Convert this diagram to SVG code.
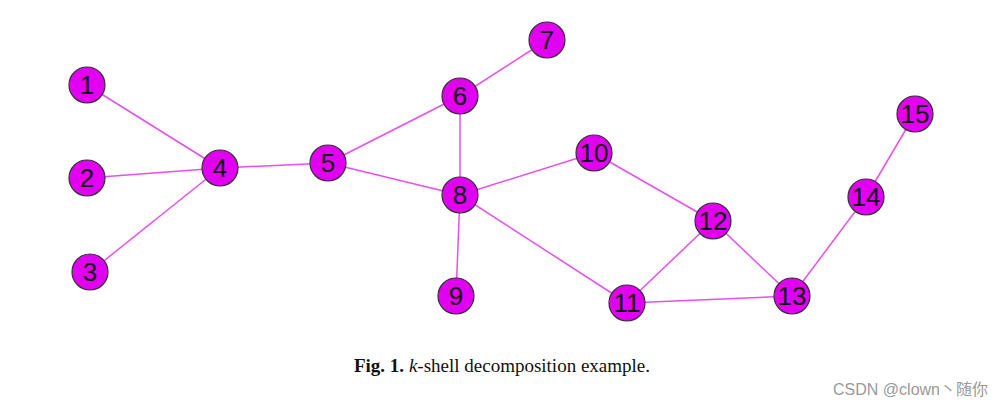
<svg xmlns="http://www.w3.org/2000/svg" width="1004" height="409" viewBox="0 0 1004 409">
<style>
.e{stroke:#e54ff0;stroke-width:1.5;fill:none}
.n circle{fill:#e100f0;stroke:#333;stroke-width:1.2}
.n text{font-family:"Liberation Sans",Arial,sans-serif;font-size:26px;fill:#111;text-anchor:middle;dominant-baseline:central}
</style>
<rect width="1004" height="409" fill="#fff"/>
<g id="edges">
<line class="e" x1="87" y1="85" x2="220" y2="168"/>
<line class="e" x1="87" y1="178" x2="220" y2="168"/>
<line class="e" x1="90" y1="272" x2="220" y2="168"/>
<line class="e" x1="220" y1="168" x2="328" y2="163"/>
<line class="e" x1="328" y1="163" x2="460" y2="96"/>
<line class="e" x1="328" y1="163" x2="460" y2="195"/>
<line class="e" x1="460" y1="96" x2="547" y2="40"/>
<line class="e" x1="460" y1="96" x2="460" y2="195"/>
<line class="e" x1="460" y1="195" x2="594" y2="153"/>
<line class="e" x1="460" y1="195" x2="456" y2="296"/>
<line class="e" x1="460" y1="195" x2="627" y2="303"/>
<line class="e" x1="594" y1="153" x2="713" y2="221"/>
<line class="e" x1="627" y1="303" x2="713" y2="221"/>
<line class="e" x1="627" y1="303" x2="792" y2="296"/>
<line class="e" x1="713" y1="221" x2="792" y2="296"/>
<line class="e" x1="792" y1="296" x2="866" y2="197"/>
<line class="e" x1="866" y1="197" x2="915" y2="114"/>
</g>
<g id="n1" class="n"><circle cx="87" cy="85" r="18"/><text x="87" y="85">1</text></g>
<g id="n2" class="n"><circle cx="87" cy="178" r="18"/><text x="87" y="178">2</text></g>
<g id="n3" class="n"><circle cx="90" cy="272" r="18"/><text x="90" y="272">3</text></g>
<g id="n4" class="n"><circle cx="220" cy="168" r="18"/><text x="220" y="168">4</text></g>
<g id="n5" class="n"><circle cx="328" cy="163" r="18"/><text x="328" y="163">5</text></g>
<g id="n6" class="n"><circle cx="460" cy="96" r="18"/><text x="460" y="96">6</text></g>
<g id="n7" class="n"><circle cx="547" cy="40" r="18"/><text x="547" y="40">7</text></g>
<g id="n8" class="n"><circle cx="460" cy="195" r="18"/><text x="460" y="195">8</text></g>
<g id="n9" class="n"><circle cx="456" cy="296" r="18"/><text x="456" y="296">9</text></g>
<g id="n10" class="n"><circle cx="594" cy="153" r="18"/><text x="594" y="153">10</text></g>
<g id="n11" class="n"><circle cx="627" cy="303" r="18"/><text x="627" y="303">11</text></g>
<g id="n12" class="n"><circle cx="713" cy="221" r="18"/><text x="713" y="221">12</text></g>
<g id="n13" class="n"><circle cx="792" cy="296" r="18"/><text x="792" y="296">13</text></g>
<g id="n14" class="n"><circle cx="866" cy="197" r="18"/><text x="866" y="197">14</text></g>
<g id="n15" class="n"><circle cx="915" cy="114" r="18"/><text x="915" y="114">15</text></g>
<text x="502" y="372" text-anchor="middle" font-family="'Liberation Serif','Noto Sans',serif" font-size="19" fill="#111"><tspan font-weight="bold">Fig. 1.</tspan>  <tspan font-style="italic">k</tspan>-shell decomposition example.</text>
<text x="988" y="395" text-anchor="end" font-family="'Liberation Sans','Noto Sans CJK SC',sans-serif" font-size="16" fill="#999">CSDN @clown丶随你</text>
</svg>
